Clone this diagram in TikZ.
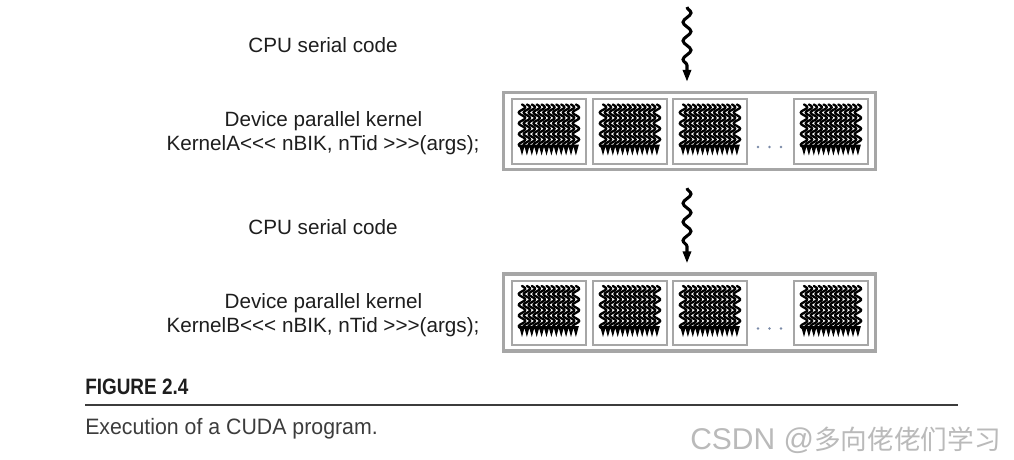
\documentclass[tikz,border=0pt]{standalone}
\usepackage{fontspec}
\usepackage{graphicx}
\setmainfont{Liberation Sans}
\newfontfamily\lsans{Liberation Sans}
\newfontfamily\cjkfont{Noto Sans CJK SC}
\usetikzlibrary{calc,decorations.pathmorphing,arrows.meta}
\definecolor{boxgray}{HTML}{A6A6A6}
\definecolor{txt}{HTML}{1E1E1E}
\definecolor{captxt}{HTML}{3C3C3C}
\definecolor{wmgray}{HTML}{BABABA}
\definecolor{dotc}{HTML}{7A8AA8}
\newcommand{\lll}{<\kern0pt<\kern0pt<}
\newcommand{\ggg}{>\kern0pt>\kern0pt>}
\begin{document}
\begin{tikzpicture}[x=0.75pt,y=-0.75pt,
  outerbox/.style={draw=boxgray, line width=2.4pt, minimum width=279pt, minimum height=57.75pt, inner sep=0pt},
  innerbox/.style={draw=boxgray, line width=1.8pt, minimum width=55.9pt, minimum height=48.4pt, inner sep=0pt},
  lbl/.style={font=\lsans\fontsize{15.5}{18}\selectfont, text=txt, anchor=base, inner sep=0pt},
  wavy/.style={line width=2.3pt, black, decorate,
    decoration={snake, amplitude=3pt, segment length=14pt, post length=9pt},
    -{Triangle[length=9pt,width=6pt]}},
  threads/.pic={
    \foreach \i [evaluate=\i as \cx using -27+\i*4.9] in {0,...,11}{
      \draw[line width=1.75pt, black, line cap=round]
        plot[variable=\t, domain=0:43, samples=44, smooth] ({\cx+3.2*sin(33.5*\t)},{-27+\t});
      \fill[black] (\cx-3,13) -- (\cx+3,13) -- (\cx,24) -- cycle;
    }
  }]
\useasboundingbox (0,0) rectangle (1014,460);
\fill[white] (0,0) rectangle (1014,460);

% kernel blocks
\node[outerbox] (kA) at (689.5,131) {};
\node[outerbox] (kB) at (689.5,312.5) {};
\foreach \n/\cx in {1/549,2/630,3/710,4/831}{
  \node[innerbox] (a\n) at (\cx,131.5) {};
  \pic at (a\n) {threads};
  \node[innerbox] (b\n) at (\cx,313) {};
  \pic at (b\n) {threads};
}
\foreach \dx in {758,769.5,781}{
  \fill[dotc] (\dx,147) circle (1.1pt);
  \fill[dotc] (\dx,328.5) circle (1.1pt);
}

% wavy connectors
\coordinate (s1) at (687,7);
\draw[wavy] (s1) -- ($(kA.north -| s1)+(0,-9)$);
\draw[wavy] ($(kA.south -| s1)+(0,17)$) -- ($(kB.north -| s1)+(0,-9)$);

% labels
\node[lbl] (cpu1) at (323,53) {CPU serial code};
\node[lbl] (dev1) at (323.5,126.5) {Device parallel kernel};
\node[lbl] (kern1) at (323,150.5) {KernelA\lll{} nBIK, nTid \ggg(args);};
\node[lbl] (cpu2) at (323,234.5) {CPU serial code};
\node[lbl] (dev2) at (323.5,308) {Device parallel kernel};
\node[lbl] (kern2) at (323,332) {KernelB\lll{} nBIK, nTid \ggg(args);};

% caption
\node[anchor=base west, inner sep=0pt, font=\bfseries\fontsize{16.7}{20}\selectfont, text=txt] (figlab) at (85,394) {\scalebox{0.85}[1]{FIGURE 2.4}};
\draw[line width=1.1pt, captxt] (85,405) -- (958,405);
\node[anchor=base west, inner sep=0pt, font=\fontsize{16.7}{20}\selectfont, text=captxt] (cap) at (85,434) {\scalebox{0.957}[1]{Execution of a CUDA program.}};
\node[anchor=base east, inner sep=0pt, text=wmgray] (wm) at (1001,449) {{\lsans\fontsize{22.5}{24}\selectfont CSDN @}{\cjkfont\fontsize{20}{24}\selectfont 多向佬佬们学习}};
\end{tikzpicture}
\end{document}
